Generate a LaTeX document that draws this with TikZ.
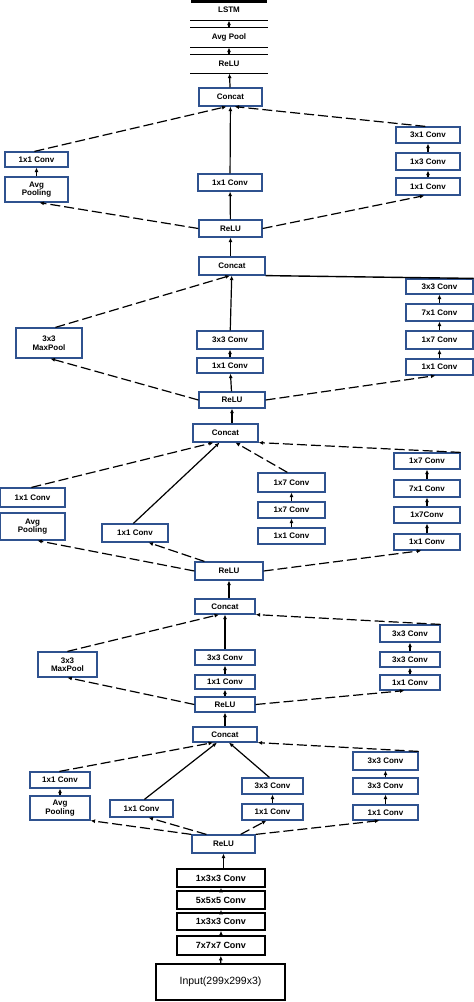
\documentclass[tikz,border=0pt]{standalone}
\usepackage{fontspec}
\setmainfont{Liberation Sans}
\usetikzlibrary{arrows.meta,calc}
\definecolor{boxblue}{RGB}{47,82,143}
\newcommand{\mybox}[7][bx]{\node[#1, minimum width={(#4-#2)*1pt}, minimum height={(#5-#3)*1pt}] (#7) at ({(#2+#4)/2},{(#3+#5)/2}) {#6};}
\begin{document}
\begin{tikzpicture}[x=1pt,y=-1pt,
  bx/.style={draw=boxblue, line width=1.2pt, inner sep=0pt, align=center, font=\bfseries\fontsize{8}{8.5}\selectfont},
  stembox/.style={bx, draw=black, line width=1.6pt, font=\bfseries\fontsize{9}{9}\selectfont},
  inbox/.style={bx, draw=black, line width=1.4pt, font=\fontsize{10.5}{11}\selectfont},
  barbox/.style={bx, draw=none},
  arr/.style={-{Latex[length=4.5pt,width=4pt]}, line width=1.2pt},
  darr/.style={arr, dash pattern=on 10pt off 4pt},
  bar/.style={line width=1.5pt}]
\useasboundingbox (0,0) rectangle (474,1002);
% top
\mybox[barbox]{191}{0}{267}{20}{LSTM}{lstm}
\mybox[barbox]{191}{28}{267}{47}{Avg Pool}{avgp}
\mybox[barbox]{191}{55}{267}{73}{ReLU}{relu7}
\fill (191,0) rectangle (267,3);
\draw[bar] (lstm.south west) -- (lstm.south east);
\draw[bar] (avgp.north west) -- (avgp.north east);
\draw[bar] (avgp.south west) -- (avgp.south east);
\draw[bar] (relu7.north west) -- (relu7.north east);
\draw[bar] (relu7.south west) -- (relu7.south east);
\mybox{199}{88}{262}{106}{Concat}{concat6}
% module C
\mybox{5}{152}{68}{167}{1x1 Conv}{c_l1}
\mybox{5}{177}{68}{202}{Avg\\Pooling}{c_lp}
\mybox{198}{174}{262}{191}{1x1 Conv}{c_m1}
\mybox{396}{127}{460}{143}{3x1 Conv}{c_r3}
\mybox{396}{153}{460}{170}{1x3 Conv}{c_r2}
\mybox{396}{178}{460}{195}{1x1 Conv}{c_r1}
\mybox{199}{220}{262}{237}{ReLU}{relu6}
\mybox{199}{257}{265}{275}{Concat}{concat5}
% module B
\mybox{16}{328}{82}{358}{3x3\\MaxPool}{b_l}
\mybox{197}{331}{263}{349}{3x3 Conv}{b_m2}
\mybox{197}{358}{263}{373}{1x1 Conv}{b_m1}
\mybox{406}{279}{473}{294}{3x3 Conv}{b_r4}
\mybox{406}{304}{473}{321}{7x1 Conv}{b_r3}
\mybox{406}{331}{473}{349}{1x7 Conv}{b_r2}
\mybox{406}{359}{473}{375}{1x1 Conv}{b_r1}
\mybox{199}{392}{265}{408}{ReLU}{relu5}
\mybox{193}{424}{258}{442}{Concat}{concat4}
% module A'
\mybox{0}{488}{65}{507}{1x1 Conv}{a_l1}
\mybox{0}{513}{65}{540}{Avg\\Pooling}{a_lp}
\mybox{102}{524}{168}{542}{1x1 Conv}{a_m}
\mybox{258}{473}{325}{492}{1x7 Conv}{a_n3}
\mybox{258}{502}{325}{518}{1x7 Conv}{a_n2}
\mybox{258}{528}{325}{544}{1x1 Conv}{a_n1}
\mybox{394}{453}{460}{469}{1x7 Conv}{a_r4}
\mybox{394}{480}{460}{497}{7x1 Conv}{a_r3}
\mybox{394}{507}{460}{523}{1x7Conv}{a_r2}
\mybox{394}{534}{460}{550}{1x1 Conv}{a_r1}
\mybox{195}{562}{263}{580}{ReLU}{relu4}
\mybox{195}{599}{255}{614}{Concat}{concat3}
% module R
\mybox{38}{652}{97}{677}{3x3\\MaxPool}{r_l}
\mybox{195}{650}{255}{665}{3x3 Conv}{r_m2}
\mybox{195}{675}{255}{689}{1x1 Conv}{r_m1}
\mybox{380}{625}{440}{642}{3x3 Conv}{r_r3}
\mybox{380}{652}{440}{667}{3x3 Conv}{r_r2}
\mybox{380}{675}{440}{690}{1x1 Conv}{r_r1}
\mybox{195}{697}{255}{712}{ReLU}{relu3}
\mybox{193}{727}{257}{742}{Concat}{concat2}
% module A
\mybox{30}{772}{90}{788}{1x1 Conv}{s_l1}
\mybox{30}{796}{90}{820}{Avg\\Pooling}{s_lp}
\mybox{110}{800}{173}{817}{1x1 Conv}{s_m}
\mybox{242}{778}{303}{794}{3x3 Conv}{s_n2}
\mybox{242}{804}{303}{820}{1x1 Conv}{s_n1}
\mybox{353}{752}{418}{770}{3x3 Conv}{s_r3}
\mybox{353}{778}{418}{794}{3x3 Conv}{s_r2}
\mybox{353}{805}{418}{820}{1x1 Conv}{s_r1}
\mybox{192}{835}{255}{853}{ReLU}{relu2}
% stem
\mybox[stembox]{177}{869}{265}{887}{1x3x3 Conv}{st4}
\mybox[stembox]{177}{891}{265}{909}{5x5x5 Conv}{st3}
\mybox[stembox]{177}{913}{265}{930}{1x3x3 Conv}{st2}
\mybox[stembox]{177}{936}{265}{955}{7x7x7 Conv}{st1}
\mybox[inbox]{156}{964}{285}{1000}{Input(299x299x3)}{inp}
% stem arrows
\draw[arr] (inp) -- (st1);
\draw[arr] (st1) -- (st2);
\draw[arr] (st2) -- (st3);
\draw[arr] (st3) -- (st4);
\draw[arr] (st4.north -| relu2) -- (relu2);
% module A edges
\draw[darr] (relu2.north west) -- (s_lp.south east);
\draw[darr] ([xshift=15]relu2.north west) -- ([xshift=-25]s_m.south east);
\draw[darr] ([xshift=-15]relu2.north east) -- ([xshift=25]s_n1.south west);
\draw[darr] (relu2.north east) -- ([xshift=27]s_r1.south west);
\draw[arr] (s_lp) -- (s_l1);
\draw[arr] (s_n1) -- (s_n2);
\draw[arr] (s_r1) -- (s_r2);
\draw[arr] (s_r2) -- (s_r3);
\draw[arr] ([xshift=35]s_m.north west) -- ([xshift=-8]concat2.south);
\draw[arr] ([xshift=28]s_n2.north west) -- ([xshift=4]concat2.south);
\draw[darr] ([xshift=30]s_l1.north west) -- ([xshift=-12]concat2.south);
\draw[darr] (s_r3.north east) -- (concat2.south east);
\draw[arr] (concat2) -- (relu3);
% module R edges
\draw[darr] (relu3.west) -- ([xshift=30]r_l.south west);
\draw[darr] (relu3.east) -- ([xshift=25]r_r1.south west);
\draw[arr] (relu3) -- (r_m1);
\draw[arr] (r_m1) -- (r_m2);
\draw[arr] (r_m2) -- (concat3);
\draw[arr] (r_r1) -- (r_r2);
\draw[arr] (r_r2) -- (r_r3);
\draw[darr] ([xshift=30]r_l.north west) -- ([xshift=-6]concat3.south);
\draw[darr] (r_r3.north east) -- (concat3.south east);
\draw[arr] (concat3.north -| relu4) -- (relu4);
% module A' edges
\draw[darr] (relu4.west) -- ([xshift=38]a_lp.south west);
\draw[darr] ([xshift=10]relu4.north west) -- ([xshift=-20]a_m.south east);
\draw[darr] (relu4.east) -- ([xshift=28]a_r1.south west);
\draw[arr] (a_n1) -- (a_n2);
\draw[arr] (a_n2) -- (a_n3);
\draw[arr] (a_r1) -- (a_r2);
\draw[arr] (a_r2) -- (a_r3);
\draw[arr] (a_r3) -- (a_r4);
\draw[arr] ([xshift=32]a_m.north west) -- ([xshift=-6]concat4.south);
\draw[darr] ([xshift=30]a_n3.north west) -- ([xshift=10]concat4.south);
\draw[darr] ([xshift=32]a_l1.north west) -- ([xshift=-12]concat4.south);
\draw[darr] (a_r4.north east) -- (concat4.south east);
\draw[arr] (concat4.north -| relu5) -- (relu5);
% module B edges
\draw[darr] (relu5.west) -- ([xshift=35]b_l.south west);
\draw[darr] (relu5.east) -- ([xshift=30]b_r1.south west);
\draw[arr] (relu5) -- (b_m1);
\draw[arr] (b_m1) -- (b_m2);
\draw[arr] (b_m2) -- (concat5);
\draw[arr] (b_r1) -- (b_r2);
\draw[arr] (b_r2) -- (b_r3);
\draw[arr] (b_r3) -- (b_r4);
\draw[darr] ([xshift=40]b_l.north west) -- ([xshift=-2]concat5.south);
\draw[line width=1.4pt] (concat5.south east) -- (b_r4.north east);
\draw[arr] (concat5.north -| relu6) -- (relu6);
% module C edges
\draw[darr] (relu6.west) -- ([xshift=35]c_lp.south west);
\draw[darr] (relu6.east) -- ([xshift=29]c_r1.south west);
\draw[arr] (relu6) -- (c_m1);
\draw[arr] (c_m1) -- (concat6);
\draw[arr] (c_lp) -- (c_l1);
\draw[arr] (c_r1) -- (c_r2);
\draw[arr] (c_r2) -- (c_r3);
\draw[darr] ([xshift=30]c_l1.north west) -- ([xshift=-4]concat6.south);
\draw[darr] ([xshift=30]c_r3.north west) -- ([xshift=4]concat6.south);
% top edges
\draw[arr] (concat6) -- (relu7);
\draw[arr] (relu7) -- (avgp);
\draw[arr] (avgp) -- (lstm);
\end{tikzpicture}
\end{document}
